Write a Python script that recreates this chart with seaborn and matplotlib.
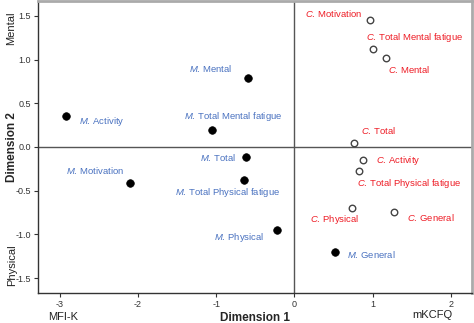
import matplotlib
matplotlib.use("Agg")
import matplotlib.pyplot as plt
import seaborn as sns
import pandas as pd

# ---- data ----
m_labels = ["Activity", "Total Mental fatigue", "Mental", "Total",
            "Total Physical fatigue", "Motivation", "Physical", "General"]
m_dim1 = [-2.92, -1.05, -0.59, -0.62, -0.64, -2.10, -0.22, 0.52]
m_dim2 = [0.35, 0.19, 0.79, -0.11, -0.38, -0.41, -0.95, -1.20]

c_labels = ["Motivation", "Total Mental fatigue", "Mental", "Total",
            "Activity", "Total Physical fatigue", "Physical", "General"]
c_dim1 = [0.97, 1.00, 1.17, 0.76, 0.88, 0.82, 0.74, 1.27]
c_dim2 = [1.45, 1.12, 1.02, 0.05, -0.15, -0.27, -0.70, -0.74]

x_ticks = [-3, -2, -1, 0, 1, 2]
y_ticks = [-1.5, -1.0, -0.5, 0.0, 0.5, 1.0, 1.5]

# label offsets in pixels (dx, dy)
m_off = [(13, -5), (-28, 14), (-59, 9), (-46, -1), (-69, -12), (-64, 12), (-63, -7), (12, -3)]
c_off = [(-65, 7), (-7, 12), (2, -12), (7, 12), (13, 0), (-2, -13), (-42, -11), (13, -6)]

df = pd.DataFrame({
    "Dimension 1": m_dim1 + c_dim1,
    "Dimension 2": m_dim2 + c_dim2,
    "group": ["M"] * len(m_dim1) + ["C"] * len(c_dim1),
})

sns.set_theme(style="white")
plt.rcParams["font.family"] = ["Liberation Sans", "DejaVu Sans"]
plt.rcParams["mathtext.fontset"] = "custom"
plt.rcParams["mathtext.it"] = "Liberation Sans:italic"
plt.rcParams["mathtext.rm"] = "Liberation Sans"

fig = plt.figure(figsize=(4.74, 3.23), dpi=100)
ax = fig.add_axes([38 / 474, 1 - 293 / 323, (472 - 38) / 474, (293 - 1) / 323])

ax.axhline(0, color="#555555", lw=1.0, zorder=1)
ax.axvline(0, color="#555555", lw=1.0, zorder=1)

sns.scatterplot(data=df[df.group == "M"], x="Dimension 1", y="Dimension 2",
                ax=ax, color="black", s=30, edgecolor="black", linewidth=0.5,
                zorder=3, legend=False)
sns.scatterplot(data=df[df.group == "C"], x="Dimension 1", y="Dimension 2",
                ax=ax, facecolor="white", s=22, edgecolor="#444444", linewidth=1.0,
                zorder=3, legend=False)

blue = "#4a72c0"
red = "#ee1c25"
for lab, x, y, (dx, dy) in zip(m_labels, m_dim1, m_dim2, m_off):
    ax.annotate(r"$\mathit{M.}\,$" + lab, (x, y), xytext=(dx, dy),
                textcoords="offset pixels", ha="left", va="center",
                fontsize=6.8, color=blue)
for lab, x, y, (dx, dy) in zip(c_labels, c_dim1, c_dim2, c_off):
    ax.annotate(r"$\mathit{C.}\,$" + lab, (x, y), xytext=(dx, dy),
                textcoords="offset pixels", ha="left", va="center",
                fontsize=6.8, color=red)

ax.set_xlim(-3.28, 2.27)
ax.set_ylim(-1.67, 1.67)
ax.set_xticks(x_ticks)
ax.set_xticklabels([str(t) for t in x_ticks])
ax.set_yticks(y_ticks)
ax.set_yticklabels([f"{t:.1f}" for t in y_ticks])
ax.tick_params(axis="both", direction="out", length=3, width=0.8, color="#333333",
               labelsize=6.5, labelcolor="#333333", pad=2, left=True, bottom=True)

for side in ["left", "bottom"]:
    ax.spines[side].set_color("#333333")
    ax.spines[side].set_linewidth(1.0)
for side in ["top", "right"]:
    ax.spines[side].set_color("#aaaaaa")
    ax.spines[side].set_linewidth(2.0)

ax.set_xlabel("Dimension 1", fontsize=8.5, fontweight="bold", va="center")
ax.set_ylabel("Dimension 2", fontsize=8.5, fontweight="bold", va="center")
ax.xaxis.set_label_coords(0.5, -25 / 292)
ax.yaxis.set_label_coords(-26 / 434, 0.5)

fig.text(63 / 474, 1 - 317 / 323, "MFI-K", fontsize=8, ha="center", va="center", color="#222222")
fig.text(432 / 474, 1 - 315 / 323, "mKCFQ", fontsize=8, ha="center", va="center", color="#222222")
fig.text(11 / 474, 1 - 28 / 323, "Mental", fontsize=8, rotation=90, ha="center", va="center", color="#222222")
fig.text(12 / 474, 1 - 265 / 323, "Physical", fontsize=8, rotation=90, ha="center", va="center", color="#222222")

fig.savefig("out.png", dpi=100)
